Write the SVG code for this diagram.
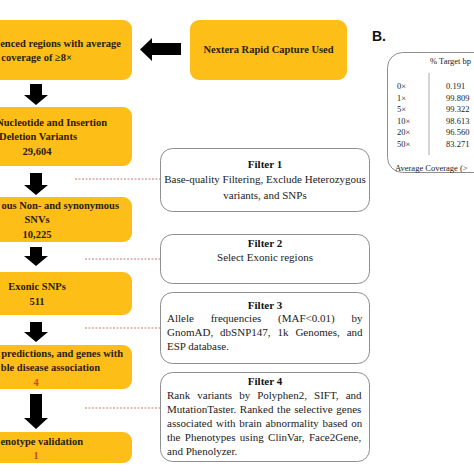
<svg xmlns="http://www.w3.org/2000/svg" width="474" height="474" viewBox="0 0 474 474">
<style>
.ob{fill:#FDBE18}
.bt{font-family:"Liberation Serif",serif;font-weight:bold;font-size:10.5px;fill:#2b2010}
.num{fill:#C4501E}
.fb{fill:#fff;stroke:#8e8e8e;stroke-width:1}
.ft{font-family:"Liberation Serif",serif;font-size:11px;fill:#222}
.fh{font-family:"Liberation Serif",serif;font-size:11px;font-weight:bold;fill:#111}
.tt{font-family:"Liberation Serif",serif;font-size:8.5px;fill:#222}
.dl{stroke:#c87a70;stroke-width:1;stroke-dasharray:2 1.5;fill:none}
.ar{fill:#000}
</style>
<rect width="474" height="474" fill="#fff"/>

<g id="box1">
<rect class="ob" x="-20" y="20" width="152" height="60" rx="9"/>
<text class="bt" x="121" y="46.5" text-anchor="end">enced regions with average</text>
<text class="bt" x="72" y="60.5" text-anchor="end">coverage of ≥8×</text>
</g>
<g id="nextera">
<rect class="ob" x="190" y="20" width="157" height="60" rx="9"/>
<text class="bt" x="268.5" y="52.5" text-anchor="middle">Nextera Rapid Capture Used</text>
</g>
<g id="box2">
<rect class="ob" x="-20" y="107" width="152" height="59" rx="9"/>
<text class="bt" x="107" y="125.5" text-anchor="end">Nucleotide and Insertion</text>
<text class="bt" x="77" y="139.5" text-anchor="end">Deletion Variants</text>
<text class="bt" x="37" y="154.5" text-anchor="middle">29,604</text>
</g>
<g id="box3">
<rect class="ob" x="-20" y="197" width="152" height="45" rx="9"/>
<text class="bt" x="119" y="208.5" text-anchor="end">ous Non- and synonymous</text>
<text class="bt" x="37" y="222.5" text-anchor="middle">SNVs</text>
<text class="bt" x="37" y="237.5" text-anchor="middle">10,225</text>
</g>
<g id="box4">
<rect class="ob" x="-20" y="272" width="152" height="43" rx="9"/>
<text class="bt" x="37" y="289.5" text-anchor="middle">Exonic SNPs</text>
<text class="bt" x="37" y="304.5" text-anchor="middle">511</text>
</g>
<g id="box5">
<rect class="ob" x="-20" y="345" width="152" height="44" rx="9"/>
<text class="bt" x="123" y="356.5" text-anchor="end">predictions, and genes with</text>
<text class="bt" x="100" y="370.5" text-anchor="end">ble disease association</text>
<text class="bt num" x="36" y="385.5" text-anchor="middle">4</text>
</g>
<g id="box6">
<rect class="ob" x="-20" y="432" width="152" height="31" rx="9"/>
<text class="bt" x="83" y="444.5" text-anchor="end">enotype validation</text>
<text class="bt num" x="36" y="458.5" text-anchor="middle">1</text>
</g>

<g id="filter1">
<rect class="fb" x="160.5" y="148.5" width="209" height="63" rx="12"/>
<text class="fh" x="265" y="167.5" text-anchor="middle">Filter 1</text>
<text class="ft" x="265" y="183" text-anchor="middle">Base-quality Filtering, Exclude Heterozygous</text>
<text class="ft" x="265" y="198.5" text-anchor="middle">variants, and SNPs</text>
</g>
<g id="filter2">
<rect class="fb" x="160.5" y="234.5" width="209" height="49" rx="12"/>
<text class="fh" x="265" y="246.5" text-anchor="middle">Filter 2</text>
<text class="ft" x="265" y="260.5" text-anchor="middle">Select Exonic regions</text>
</g>
<g id="filter3">
<rect class="fb" x="160.5" y="292.5" width="209" height="71" rx="12"/>
<text class="fh" x="265" y="308.5" text-anchor="middle">Filter 3</text>
<text class="ft" x="167" y="322" word-spacing="14">Allele frequencies (MAF&lt;0.01) by</text>
<text class="ft" x="167" y="336" word-spacing="4.2">GnomAD, dbSNP147, 1k Genomes, and</text>
<text class="ft" x="167" y="350">ESP database.</text>
</g>
<g id="filter4">
<rect class="fb" x="160.5" y="372.5" width="209" height="89" rx="12"/>
<text class="fh" x="265" y="384.5" text-anchor="middle">Filter 4</text>
<text class="ft" x="167" y="398.5" word-spacing="4.3">Rank variants by Polyphen2, SIFT, and</text>
<text class="ft" x="167" y="412.5" word-spacing="0.9">MutationTaster. Ranked the selective genes</text>
<text class="ft" x="167" y="426.5" word-spacing="1">associated with brain abnormality based on</text>
<text class="ft" x="167" y="441" word-spacing="1.6">the Phenotypes using ClinVar, Face2Gene,</text>
<text class="ft" x="167" y="455">and Phenolyzer.</text>
</g>

<g id="panelB">
<text x="372" y="41" font-family="Liberation Sans,sans-serif" font-weight="bold" font-size="14" fill="#111">B.</text>
<rect class="fb" x="387.5" y="52.5" width="110" height="120" rx="15"/>
<text class="tt" x="430" y="64" font-size="9">% Target bp</text>
<line x1="429" y1="73" x2="429" y2="155" stroke="#aaa" stroke-width="1"/>
<text class="tt" x="397" y="89">0×</text><text class="tt" x="446" y="89">0.191</text>
<text class="tt" x="397" y="100.5">1×</text><text class="tt" x="446" y="100.5">99.809</text>
<text class="tt" x="397" y="112">5×</text><text class="tt" x="446" y="112">99.322</text>
<text class="tt" x="397" y="123.5">10×</text><text class="tt" x="446" y="123.5">98.613</text>
<text class="tt" x="397" y="135">20×</text><text class="tt" x="446" y="135">96.560</text>
<text class="tt" x="397" y="146.5">50×</text><text class="tt" x="446" y="146.5">83.271</text>
<text class="tt" x="395" y="171" font-size="9.5">Average Coverage (&gt;</text>
</g>

<g id="connectors">
<polygon class="ar" points="181,43 152,43 152,38 140,49.5 152,61 152,55 181,55"/>
<polygon class="ar" points="30,84 42,84 42,95 48,95 36,105 24,95 30,95"/>
<polygon class="ar" points="30,173 42,173 42,185 48,185 36,195 24,185 30,185"/>
<polygon class="ar" points="30,247 42,247 42,256 48,256 36,266 24,256 30,256"/>
<polygon class="ar" points="30,322 42,322 42,332 48,332 36,342 24,332 30,332"/>
<polygon class="ar" points="30,394 42,394 42,418 48,418 36,429 24,418 30,418"/>
<line class="dl" x1="75" y1="179" x2="160" y2="179"/>
<line class="dl" x1="85" y1="259" x2="160" y2="259"/>
<line class="dl" x1="85" y1="328" x2="160" y2="328"/>
<line class="dl" x1="85" y1="408" x2="160" y2="408"/>
</g>
</svg>
